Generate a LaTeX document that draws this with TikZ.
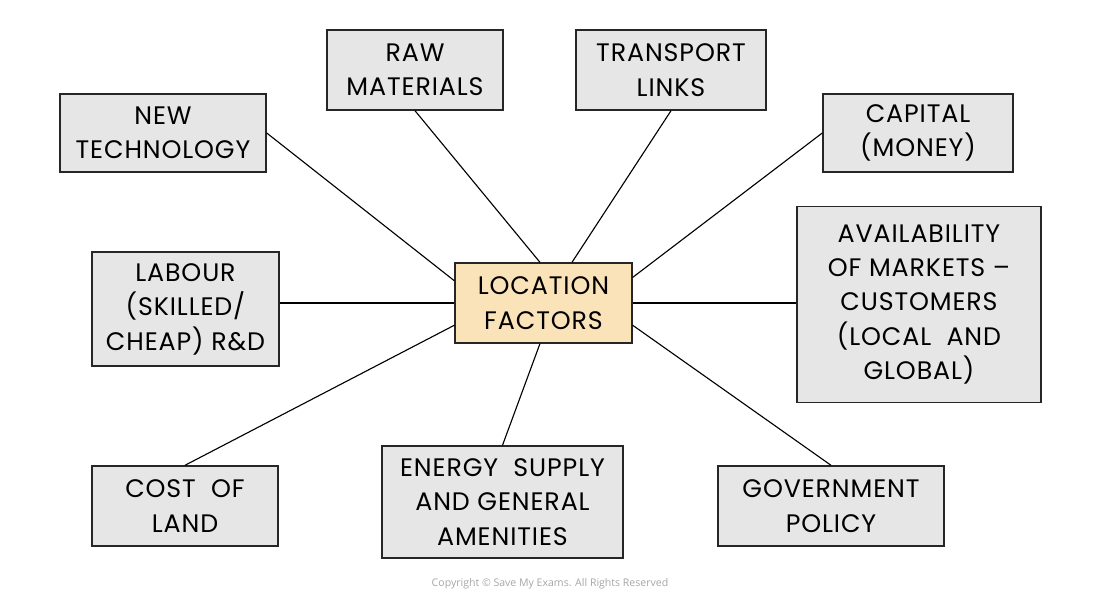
\documentclass[tikz,border=0pt]{standalone}
\usepackage{fontspec}
\setmainfont{Poppins}[LetterSpace=3.5]
\newfontfamily\copyfont{Open Sans}
\usepackage{tikz}
\usetikzlibrary{positioning}

\definecolor{boxgrey}{HTML}{E6E6E6}
\definecolor{boxorange}{HTML}{FBE3B9}
\definecolor{edgegrey}{HTML}{262626}

\begin{document}
\begin{tikzpicture}[x=0.025cm, y=-0.025cm,
    factor/.style={draw=edgegrey, line width=1pt, fill=boxgrey, align=center,
        inner sep=0pt, font=\fontsize{18}{24.5}\selectfont},
    hub/.style={factor, fill=boxorange},
    link/.style={black, line width=0.8pt}]
    \useasboundingbox (0,0) rectangle (1100,604);

    % Centre box
    \node[hub, minimum width=4.42cm, minimum height=2cm] (loc) at (543.5,303) {LOCATION\\FACTORS};

    % Factors, top row
    \node[factor, minimum width=4.4cm, minimum height=2cm] (raw) at (415,70) {RAW\\MATERIALS};
    \node[factor, minimum width=4.75cm, minimum height=2cm] (transport) at (671,70) {TRANSPORT\\LINKS};
    \node[factor, minimum width=5.15cm, minimum height=1.95cm] (tech) at (163,133) {NEW\\TECHNOLOGY};
    \node[factor, minimum width=4.75cm, minimum height=1.95cm] (capital) at (918,133) {CAPITAL\\(MONEY)};

    % Factors, middle row
    \node[factor, minimum width=4.68cm, minimum height=2.85cm] (labour) at (185.5,309) {LABOUR\\(SKILLED/\\CHEAP) R\&D};
    \node[factor, minimum width=6.1cm, minimum height=4.9cm] (markets) at (919,304.5)
        {AVAILABILITY\\OF MARKETS --\\CUSTOMERS\\(LOCAL\ \ AND\\GLOBAL)};

    % Factors, bottom row
    \node[factor, minimum width=4.65cm, minimum height=2cm] (land) at (185,506) {COST\ \ OF\\LAND};
    \node[factor, minimum width=6.02cm, minimum height=2.8cm] (energy) at (502.5,502) {ENERGY\ \ SUPPLY\\AND GENERAL\\AMENITIES};
    \node[factor, minimum width=5.65cm, minimum height=2cm] (govt) at (831,506) {GOVERNMENT\\POLICY};

    % Spokes
    \draw[link] (tech.east) -- (loc.166);
    \draw[link] (raw.south) -- (loc.95);
    \draw[link] (transport.south) -- (loc.55);
    \draw[link] (capital.west) -- (loc.16);
    \draw[link] (loc.west) -- (labour.east |- loc.west);
    \draw[link] (loc.east) -- (markets.west |- loc.east);
    \draw[link] (land.north) -- (loc.194);
    \draw[link] (energy.north) -- (loc.265);
    \draw[link] (govt.north) -- (loc.346);

    \node[font=\copyfont\fontsize{7.5}{9}\selectfont, text=gray!70] (copy) at (550,584)
        {Copyright \textcopyright\ Save My Exams. All Rights Reserved};
\end{tikzpicture}
\end{document}
